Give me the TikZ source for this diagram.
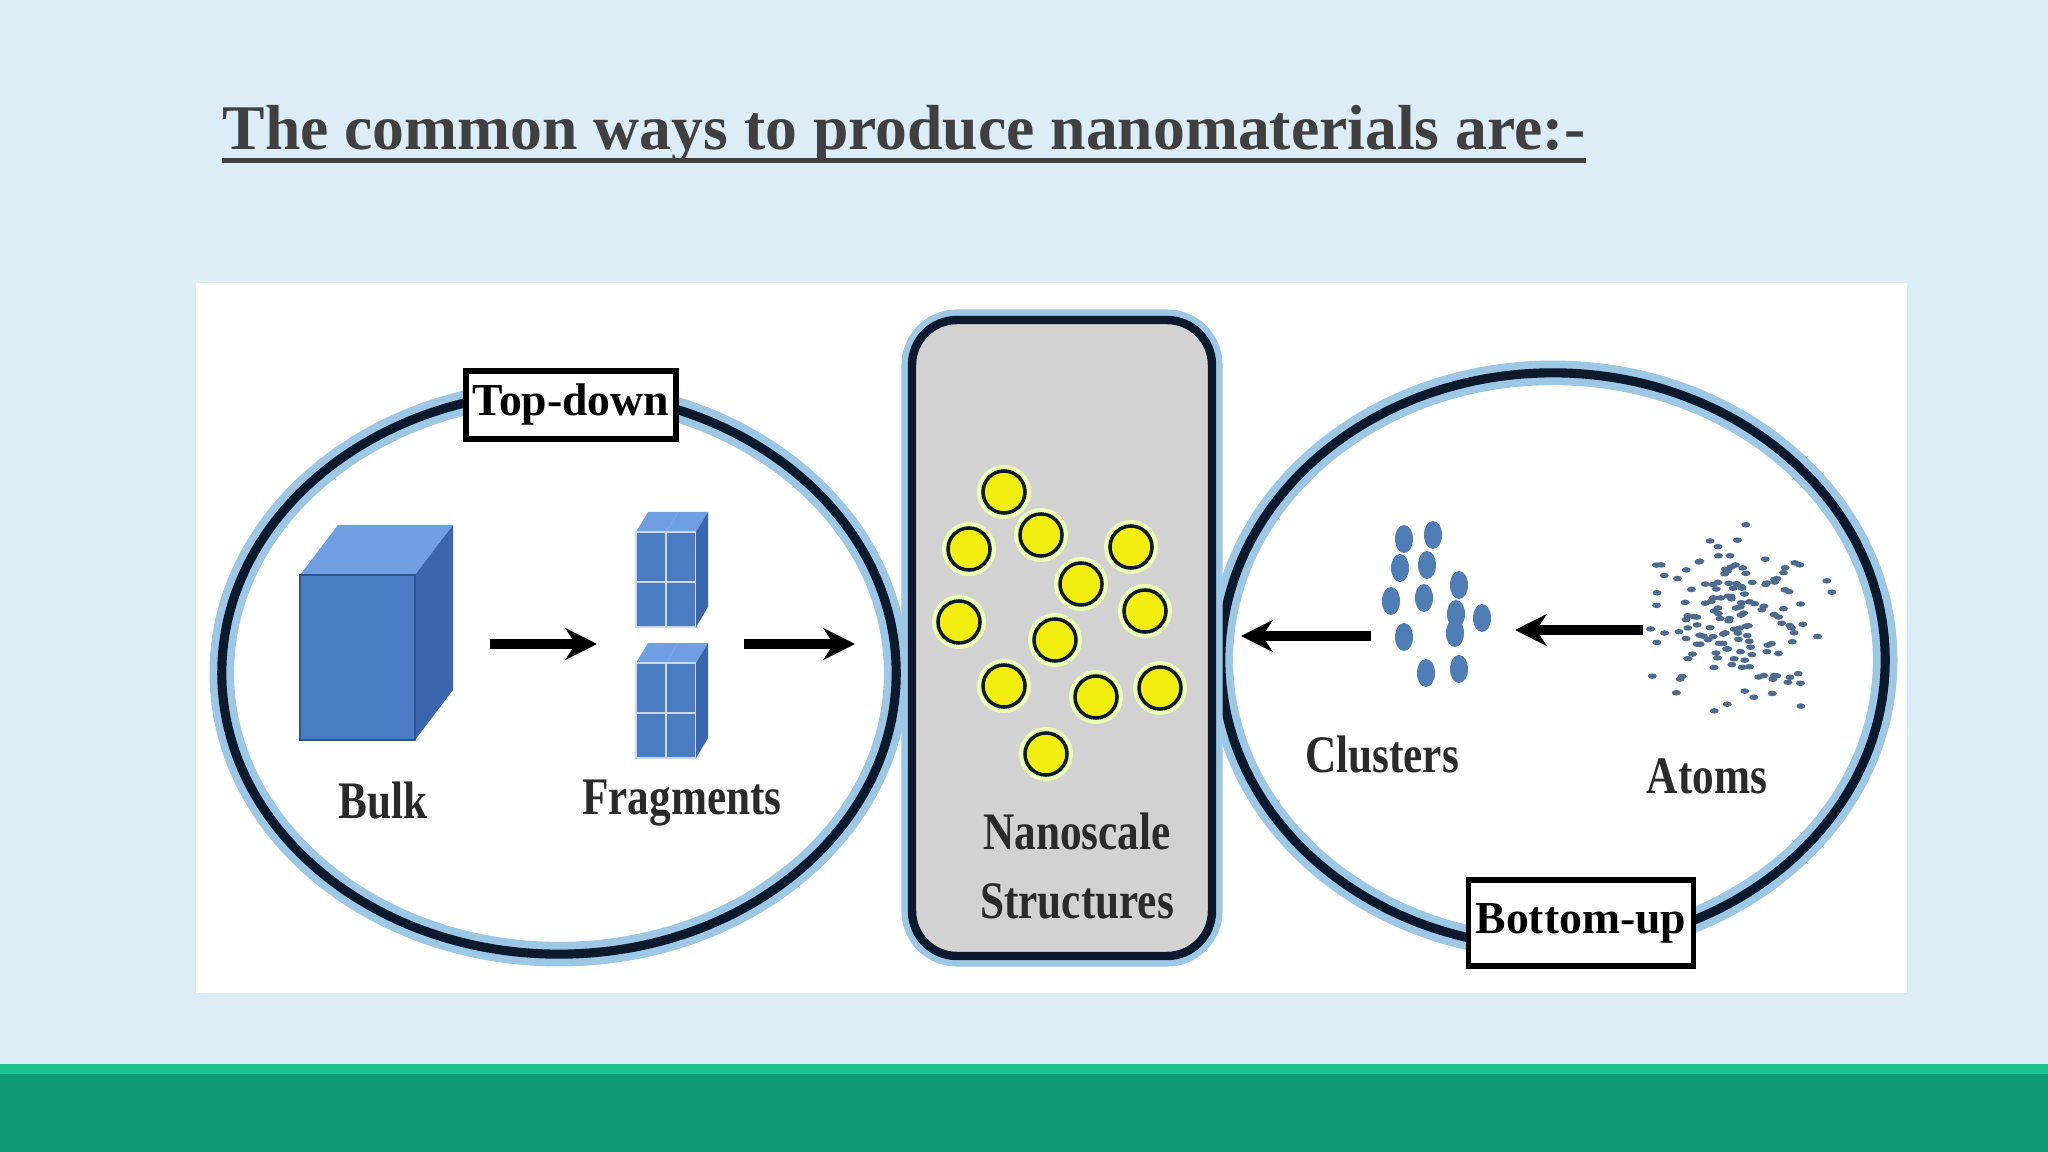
\documentclass[tikz,border=0pt]{standalone}
\usepackage{fontspec}
\setmainfont{Liberation Serif}
\usetikzlibrary{arrows.meta,shapes.geometric}
\definecolor{bgblue}{HTML}{DCEDF7}
\definecolor{teal1}{HTML}{1CC48F}
\definecolor{teal2}{HTML}{0F9970}
\definecolor{titlegray}{HTML}{404040}
\definecolor{navy}{HTML}{0D1A2E}
\definecolor{glow}{HTML}{9CC8E6}
\definecolor{cfront}{HTML}{4A7CC4}
\definecolor{ctop}{HTML}{6F9FE2}
\definecolor{cside}{HTML}{3A66AE}
\definecolor{ndot}{HTML}{F2EE10}
\definecolor{cdot}{HTML}{4F7DB5}
\definecolor{adot}{HTML}{4C6B8E}
\definecolor{lbl}{HTML}{2A2A2A}
\begin{document}
\begin{tikzpicture}[x=0.01cm,y=-0.01cm,
  lab/.style={font=\bfseries\fontsize{15}{16}\selectfont, text=lbl, xscale=0.82, inner sep=0pt},
  tagbox/.style={draw=black, line width=1.6pt, fill=white, font=\bfseries\fontsize{13}{15}\selectfont, minimum width=2.1cm, minimum height=0.68cm, inner sep=1pt},
  arr/.style={-{Stealth[length=9pt,width=9pt]}, line width=2.6pt, black},
  ycirc/.style={circle, fill=ndot, draw=navy, line width=1pt, minimum size=0.42cm, inner sep=0pt},
  cl/.style={ellipse, fill=cdot, minimum width=0.18cm, minimum height=0.28cm, inner sep=0pt}]
\useasboundingbox (0,0) rectangle (2048,1152);
\fill[bgblue] (0,0) rectangle (2048,1152);
\fill[teal1] (0,1064) rectangle (2048,1152);
\fill[teal2] (0,1074) rectangle (2048,1152);
% title
\node[anchor=base west, inner sep=0pt, text=titlegray, font=\bfseries\fontsize{18.1}{22}\selectfont] (title) at (222,150) {The common ways to produce nanomaterials are:-};
\draw[titlegray, line width=1.4pt] ([yshift=-3pt]title.base west) -- ([yshift=-3pt]title.base east);
% panel
\fill[white] (196,283) rectangle (1907,993);
% ellipses
\draw[glow, line width=7pt] (559,673) ellipse [x radius=3.37cm, y radius=2.81cm];
\draw[navy, line width=2.6pt] (559,673) ellipse [x radius=3.37cm, y radius=2.81cm];
\draw[glow, line width=7pt] (1553,660) ellipse [x radius=3.32cm, y radius=2.87cm];
\draw[navy, line width=2.6pt] (1553,660) ellipse [x radius=3.32cm, y radius=2.87cm];
\node[tagbox] (td) at (571,405) {Top-down};
\node[tagbox, minimum width=2.25cm, minimum height=0.86cm] (bu) at (1581,923) {Bottom-up};
% middle box
\draw[glow, line width=6pt, rounded corners=0.45cm] (912,320) rectangle (1212,956);
\draw[navy, line width=2.4pt, fill=gray!35, rounded corners=0.45cm] (912,320) rectangle (1212,956);
% bulk cube
\fill[cfront] (300,575) rectangle (415,740);
\fill[ctop] (300,575) -- (338,525) -- (453,525) -- (415,575) -- cycle;
\fill[cside] (415,575) -- (453,525) -- (453,690) -- (415,740) -- cycle;
\draw[cside!80!black, line width=0.5pt] (300,575) rectangle (415,740);
% fragments
\foreach \ox/\oy in {636/532, 636/663}{
  \foreach \dx in {0,30}{
    \fill[cfront] (\ox+\dx,\oy) rectangle (\ox+\dx+30,\oy+95);
    \fill[ctop] (\ox+\dx,\oy) -- (\ox+\dx+12,\oy-20) -- (\ox+\dx+42,\oy-20) -- (\ox+\dx+30,\oy) -- cycle;
    \draw[white!70!cfront, line width=0.6pt] (\ox+\dx,\oy) rectangle (\ox+\dx+30,\oy+95);
  }
  \fill[cside] (\ox+60,\oy) -- (\ox+72,\oy-20) -- (\ox+72,\oy+75) -- (\ox+60,\oy+95) -- cycle;
  \draw[white!70!cfront, line width=0.6pt] (\ox,\oy+50) -- (\ox+60,\oy+50);
}
% arrows
\coordinate (a1s) at (490,644); \coordinate (a1e) at (597,644);
\coordinate (a2s) at (744,644); \coordinate (a2e) at (855,644);
\coordinate (a3s) at (1371,636); \coordinate (a3e) at (1241,636);
\coordinate (a4s) at (1643,630); \coordinate (a4e) at (1515,630);
\draw[arr] (a1s) -- (a1e);
\draw[arr] (a2s) -- (a2e);
\draw[arr] (a3s) -- (a3e);
\draw[arr] (a4s) -- (a4e);
% labels
\node[lab] (bulk) at (383,801) {Bulk};
\node[lab] (frag) at (682,803) {Fragments};
\node[lab] (nano1) at (1077,831) {Nanoscale};
\node[lab] (nano2) at (1077,901) {Structures};
\node[lab] (clus) at (1382,755) {Clusters};
\node[lab] (atoms) at (1707,776) {Atoms};
% nano particles
\foreach \px/\py [count=\k] in {1004/492,969/549,1041/535,1131/547,1081/584,959/622,1145/611,1055/640,1004/686,1096/697,1160/688,1046/754}{
  \fill[green!25!yellow!30] (\px,\py) circle (0.27cm);
  \node[ycirc] (y\k) at (\px,\py) {};
}
% clusters
\foreach \px/\py [count=\k] in {1404/539,1433/535,1400/568,1427/565,1459/585,1391/601,1424/598,1456/614,1482/618,1404/637,1455/633,1426/673,1459/669}{
  \node[cl] (c\k) at (\px,\py) {};
}
% atoms
\pgfmathsetseed{7}
\foreach \i in {1,...,150}{
  \pgfmathsetmacro\ax{1737+(rand+rand+rand)*40}
  \pgfmathsetmacro\ay{612+(rand+rand+rand)*40}
  \fill[adot] (\ax,\ay) ellipse [x radius=0.045cm, y radius=0.028cm];
}
\end{tikzpicture}
\end{document}
